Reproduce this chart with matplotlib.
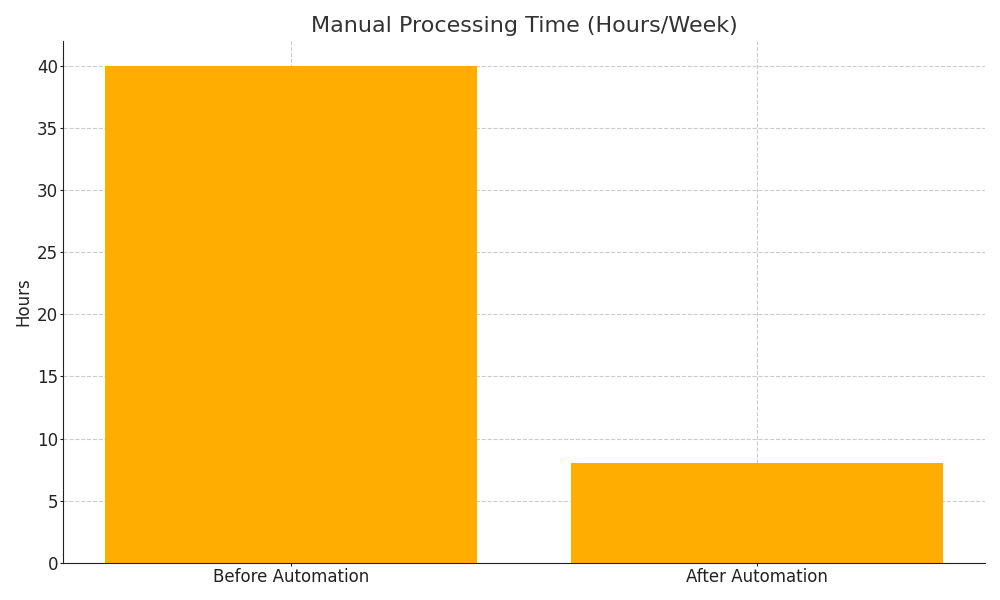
import matplotlib

matplotlib.use("Agg")
import matplotlib.pyplot as plt  # noqa: E402

categories = ["Before Automation", "After Automation"]
hours = [40, 8]

BAR_COLOR = "#FFAE00"
TEXT_COLOR = "#222222"

fig = plt.figure(figsize=(10, 6), dpi=100)
ax = fig.add_axes([0.063, 0.062, 0.922, 0.87])

ax.bar(categories, hours, width=0.8, color=BAR_COLOR, zorder=2)

ax.set_title("Manual Processing Time (Hours/Week)", fontsize=16, color="#333333")
ax.set_ylabel("Hours", fontsize=12, color=TEXT_COLOR, labelpad=3)
ax.tick_params(labelsize=12, colors=TEXT_COLOR, length=2, pad=1.5)
ax.grid(True, linestyle="--", color="#cccccc", linewidth=0.8, zorder=0)
ax.set_axisbelow(True)

for side in ("top", "right"):
    ax.spines[side].set_visible(False)
for side in ("left", "bottom"):
    ax.spines[side].set_color("#222222")

fig.savefig("out.png")
plt.close(fig)
